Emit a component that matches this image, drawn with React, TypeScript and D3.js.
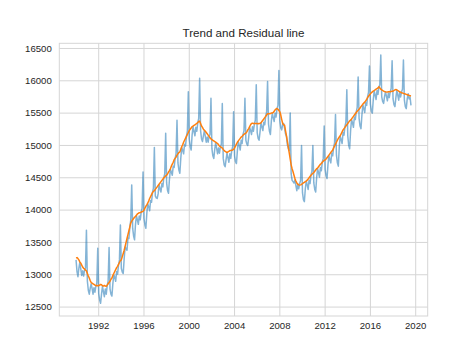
import React from "react";
import * as d3 from "d3";

const START_YEAR = 1990;

// Observed monthly values (Jan 1990 .. Aug 2019)
const observed: number[] = [
  // 1990
  13230, 13050, 12970, 13100, 13190, 13090, 12990, 13060, 12980, 13070, 13110, 13690,
  // 1991
  12900, 12760, 12700, 12790, 12860, 12790, 12700, 12800, 12730, 12820, 12870, 13410,
  // 1992
  12710, 12610, 12560, 12700, 12820, 12740, 12660, 12780, 12700, 12830, 12900, 13420,
  // 1993
  12780, 12700, 12670, 12860, 13000, 12960, 12900, 13050, 13010, 13150, 13230, 13770,
  // 1994
  13100, 13040, 13020, 13250, 13430, 13400, 13380, 13570, 13560, 13730, 13850, 14390,
  // 1995
  13720, 13600, 13540, 13780, 13910, 13850, 13780, 13910, 13850, 13960, 14030, 14590,
  // 1996
  13870, 13770, 13720, 13950, 14100, 14050, 13990, 14150, 14120, 14270, 14340, 14970,
  // 1997
  14220, 14190, 14180, 14250, 14390, 14330, 14280, 14410, 14360, 14500, 14560, 15190,
  // 1998
  14420, 14300, 14260, 14480, 14630, 14590, 14540, 14680, 14660, 14800, 14870, 15390,
  // 1999
  14730, 14620, 14570, 14800, 14970, 14930, 14870, 15020, 14990, 15140, 15220, 15830,
  // 2000
  15100, 14980, 14930, 15160, 15290, 15220, 15150, 15280, 15220, 15350, 15420, 16040,
  // 2001
  15230, 15100, 15060, 15150, 15230, 15140, 15050, 15130, 15050, 15140, 15170, 15730,
  // 2002
  14950, 14840, 14800, 14940, 15040, 14960, 14870, 14960, 14880, 14980, 15020, 15650,
  // 2003
  14800, 14700, 14670, 14780, 14880, 14810, 14740, 14870, 14800, 14920, 14980, 15520,
  // 2004
  14840, 14750, 14720, 14920, 15060, 15000, 14930, 15080, 15030, 15170, 15230, 15730,
  // 2005
  15080, 15020, 15000, 15130, 15280, 15230, 15170, 15290, 15220, 15330, 15390, 15940,
  // 2006
  15200, 15110, 15080, 15210, 15350, 15290, 15230, 15360, 15320, 15450, 15520, 15990,
  // 2007
  15330, 15220, 15170, 15380, 15500, 15430, 15370, 15500, 15440, 15570, 15620, 16160,
  // 2008
  15380, 15270, 15240, 15330, 15340, 15270, 15180, 15140, 15010, 14950, 14920, 15500,
  // 2009
  14560, 14460, 14440, 14420, 14470, 14380, 14300, 14400, 14330, 14410, 14460, 15000,
  // 2010
  14270, 14160, 14130, 14330, 14450, 14390, 14320, 14460, 14410, 14540, 14600, 15000,
  // 2011
  14420, 14320, 14280, 14500, 14640, 14580, 14510, 14660, 14610, 14740, 14800, 15300,
  // 2012
  14630, 14530, 14490, 14700, 14840, 14780, 14730, 14880, 14840, 14970, 15040, 15480,
  // 2013
  14850, 14730, 14680, 14980, 15140, 15090, 15030, 15200, 15160, 15290, 15360, 15860,
  // 2014
  15150, 15000, 14950, 15230, 15400, 15350, 15280, 15440, 15400, 15520, 15590, 16060,
  // 2015
  15420, 15300, 15260, 15470, 15630, 15570, 15510, 15660, 15620, 15750, 15820, 16230,
  // 2016
  15640, 15530, 15500, 15700, 15840, 15780, 15710, 15850, 15790, 15900, 15940, 16400,
  // 2017
  15750, 15680, 15650, 15760, 15830, 15760, 15690, 15810, 15740, 15830, 15880, 16310,
  // 2018
  15720, 15630, 15600, 15740, 15850, 15780, 15700, 15820, 15750, 15830, 15870, 16320,
  // 2019
  15700, 15600, 15570, 15720, 15800, 15720, 15750, 15620,
];

// Trend monthly values (Jan 1990 .. Aug 2019)
const trend: number[] = [
  // 1990
  13260, 13265, 13250, 13230, 13200, 13180, 13150, 13120, 13100, 13090, 13070, 13060,
  // 1991
  13020, 12980, 12950, 12910, 12880, 12870, 12860, 12850, 12840, 12835, 12830, 12835,
  // 1992
  12830, 12840, 12850, 12845, 12830, 12825, 12835, 12825, 12820, 12840, 12860, 12880,
  // 1993
  12900, 12930, 12950, 12990, 13020, 13050, 13080, 13110, 13130, 13160, 13190, 13220,
  // 1994
  13230, 13280, 13330, 13380, 13440, 13500, 13560, 13620, 13680, 13740, 13800, 13830,
  // 1995
  13850, 13870, 13890, 13900, 13920, 13940, 13950, 13960, 13960, 13970, 13975, 13980,
  // 1996
  14000, 14030, 14060, 14080, 14110, 14140, 14180, 14210, 14240, 14270, 14290, 14300,
  // 1997
  14320, 14340, 14360, 14380, 14400, 14420, 14440, 14460, 14480, 14500, 14510, 14530,
  // 1998
  14540, 14560, 14590, 14610, 14640, 14680, 14710, 14740, 14780, 14800, 14820, 14850,
  // 1999
  14870, 14890, 14900, 14940, 14980, 15010, 15050, 15080, 15110, 15140, 15170, 15200,
  // 2000
  15230, 15250, 15270, 15290, 15300, 15310, 15320, 15330, 15340, 15355, 15370, 15376,
  // 2001
  15340, 15300, 15280, 15250, 15236, 15220, 15200, 15180, 15160, 15140, 15120, 15100,
  // 2002
  15090, 15080, 15070, 15060, 15050, 15040, 15030, 15010, 14990, 14980, 14970, 14960,
  // 2003
  14940, 14920, 14910, 14900, 14890, 14900, 14910, 14920, 14920, 14925, 14930, 14940,
  // 2004
  14960, 14990, 15020, 15050, 15070, 15090, 15110, 15130, 15140, 15160, 15170, 15185,
  // 2005
  15190, 15210, 15240, 15260, 15290, 15320, 15340, 15345, 15340, 15340, 15340, 15340,
  // 2006
  15340, 15335, 15340, 15340, 15350, 15370, 15390, 15410, 15430, 15450, 15470, 15490,
  // 2007
  15490, 15490, 15495, 15500, 15500, 15510, 15530, 15550, 15565, 15572, 15560, 15540,
  // 2008
  15520, 15470, 15400, 15340, 15320, 15314, 15230, 15150, 15060, 14970, 14880, 14790,
  // 2009
  14700, 14640, 14592, 14540, 14490, 14450, 14420, 14400, 14390, 14386, 14390, 14395,
  // 2010
  14410, 14420, 14430, 14440, 14450, 14463, 14480, 14500, 14520, 14540, 14555, 14570,
  // 2011
  14580, 14600, 14620, 14640, 14650, 14670, 14690, 14710, 14720, 14740, 14755, 14770,
  // 2012
  14775, 14790, 14810, 14830, 14850, 14870, 14890, 14910, 14927, 14960, 14990, 15020,
  // 2013
  15050, 15080, 15110, 15130, 15150, 15180, 15210, 15240, 15260, 15280, 15300, 15320,
  // 2014
  15340, 15360, 15380, 15391, 15410, 15430, 15450, 15470, 15490, 15510, 15530, 15545,
  // 2015
  15560, 15580, 15600, 15620, 15640, 15655, 15670, 15690, 15710, 15740, 15760, 15780,
  // 2016
  15800, 15815, 15829, 15840, 15850, 15860, 15870, 15880, 15890, 15906, 15890, 15870,
  // 2017
  15860, 15850, 15840, 15835, 15829, 15825, 15825, 15830, 15830, 15830, 15835, 15840,
  // 2018
  15840, 15850, 15860, 15866, 15860, 15850, 15840, 15830, 15825, 15815, 15813, 15805,
  // 2019
  15800, 15795, 15790, 15785, 15780, 15775, 15770, 15765,
];

const xTicks = [1992, 1996, 2000, 2004, 2008, 2012, 2016, 2020];
const yTicks = [12500, 13000, 13500, 14000, 14500, 15000, 15500, 16000, 16500];
const TITLE = "Trend and Residual line";

const W = 474;
const H = 355;
const M = { left: 59.3, right: 427.7, top: 43.3, bottom: 316 };

export default function App() {
  const x = d3.scaleLinear().domain([1988.52, 2021.06]).range([M.left, M.right]);
  const y = d3.scaleLinear().domain([12362, 16580]).range([M.bottom, M.top]);

  const line = d3
    .line<number>()
    .x((_, i) => x(START_YEAR + i / 12))
    .y((d) => y(d));

  const grid = "#d5d5d5";
  const textColor = "#262626";
  const font = "'Liberation Sans', Arial, sans-serif";

  return (
    <svg
      width={W}
      height={H}
      style={{ position: "absolute", left: 0, top: 0, background: "#fff" }}
      fontFamily={font}
    >
      <rect x={0} y={0} width={W} height={H} fill="#fff" />
      {xTicks.map((t) => (
        <line key={"gx" + t} x1={x(t)} x2={x(t)} y1={M.top} y2={M.bottom} stroke={grid} strokeWidth={1} />
      ))}
      {yTicks.map((t) => (
        <line key={"gy" + t} x1={M.left} x2={M.right} y1={y(t)} y2={y(t)} stroke={grid} strokeWidth={1} />
      ))}
      <rect
        x={M.left}
        y={M.top}
        width={M.right - M.left}
        height={M.bottom - M.top}
        fill="none"
        stroke={grid}
        strokeWidth={1}
      />
      <path d={line(observed) || ""} fill="none" stroke="#1f77b4" strokeOpacity={0.55} strokeWidth={1.5} strokeLinejoin="round" />
      <path d={line(trend) || ""} fill="none" stroke="#ff7f0e" strokeWidth={1.5} strokeLinejoin="round" />
      {yTicks.map((t) => (
        <text
          key={"ty" + t}
          x={M.left - 7.5}
          y={y(t)}
          dy="0.35em"
          textAnchor="end"
          fontSize={9.6}
          fill={textColor}
        >
          {t}
        </text>
      ))}
      {xTicks.map((t) => (
        <text key={"tx" + t} x={x(t)} y={M.bottom + 13} textAnchor="middle" fontSize={9.6} fill={textColor}>
          {t}
        </text>
      ))}
      <text x={(M.left + M.right) / 2} y={36.5} textAnchor="middle" fontSize={11.6} fill={textColor}>
        {TITLE}
      </text>
    </svg>
  );
}
